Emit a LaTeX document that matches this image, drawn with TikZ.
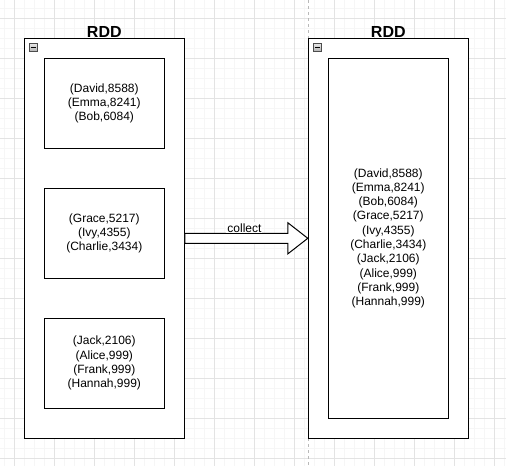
\documentclass[tikz,border=0pt]{standalone}
\usepackage{fontspec}
\setmainfont{Liberation Sans}
\usetikzlibrary{calc}
\begin{document}
\begin{tikzpicture}[x=1pt,y=-1pt,
  container/.style={draw=black, fill=white, line width=1pt, minimum width=160pt, minimum height=400pt, inner sep=0pt},
  partbox/.style={draw=black, fill=white, line width=1pt, minimum width=120pt, minimum height=90pt, inner sep=0pt, align=center, font=\fontsize{12}{14.3}\selectfont},
  title/.style={anchor=south, inner sep=0pt, font=\bfseries\fontsize{16}{19}\selectfont},
  minusicon/.style={draw=gray!60!black, top color=gray!20, bottom color=gray!60, minimum size=8pt, inner sep=0pt, line width=0.6pt},
  fatarrow/.style={draw=black, fill=white, line width=1pt, line join=miter},
  lbl/.style={fill=white, inner sep=1pt, font=\fontsize{12}{14}\selectfont}
]
\useasboundingbox (0,0) rectangle (506,466);
\fill[white] (0,0) rectangle (506,466);
% grid
\foreach \x in {4,14,...,504} \draw[gray!7, line width=0.8pt] (\x,0) -- (\x,466);
\foreach \y in {8,18,...,458} \draw[gray!7, line width=0.8pt] (0,\y) -- (506,\y);
\foreach \x in {14,54,...,494} \draw[gray!22, line width=0.8pt] (\x,0) -- (\x,466);
\foreach \y in {18,58,...,458} \draw[gray!22, line width=0.8pt] (0,\y) -- (506,\y);
% page break
\draw[gray!55, line width=0.8pt, dash pattern=on 3pt off 3pt] (308.3,0) -- (308.3,466);

% left container
\node[container] (L) at (104.3,238.3) {};
\node[title] (Lt) at (L.north) {RDD};
\node[minusicon] (Lm) at (33.3,47.5) {};
\draw[black, line width=0.9pt] ($(Lm.center)+(-2.5,0)$) -- ($(Lm.center)+(2.5,0)$);
\node[partbox] (P1) at (104.3,103.3) {(David,8588)\\(Emma,8241)\\(Bob,6084)};
\node[partbox] (P2) at (104.3,233.3) {(Grace,5217)\\(Ivy,4355)\\(Charlie,3434)};
\node[partbox] (P3) at (104.3,363.3) {(Jack,2106)\\(Alice,999)\\(Frank,999)\\(Hannah,999)};

% right container
\node[container] (R) at (388.3,238.3) {};
\node[title] (Rt) at (R.north) {RDD};
\node[minusicon] (Rm) at (317.3,47.5) {};
\draw[black, line width=0.9pt] ($(Rm.center)+(-2.5,0)$) -- ($(Rm.center)+(2.5,0)$);
\node[partbox, minimum height=360pt] (Q) at (388.3,238.3) {(David,8588)\\(Emma,8241)\\(Bob,6084)\\(Grace,5217)\\(Ivy,4355)\\(Charlie,3434)\\(Jack,2106)\\(Alice,999)\\(Frank,999)\\(Hannah,999)};

% collect arrow
\draw[fatarrow] ($(L.east)+(0,-5)$) -- ($(R.west)+(-20,-5)$) -- ($(R.west)+(-20,-15.6)$) -- (R.west)
  -- ($(R.west)+(-20,15.6)$) -- ($(R.west)+(-20,5)$) -- ($(L.east)+(0,5)$) -- cycle;
\node[lbl] (C) at ($(L.east)!0.485!(R.west)+(0,-10.5)$) {collect};
\end{tikzpicture}
\end{document}
